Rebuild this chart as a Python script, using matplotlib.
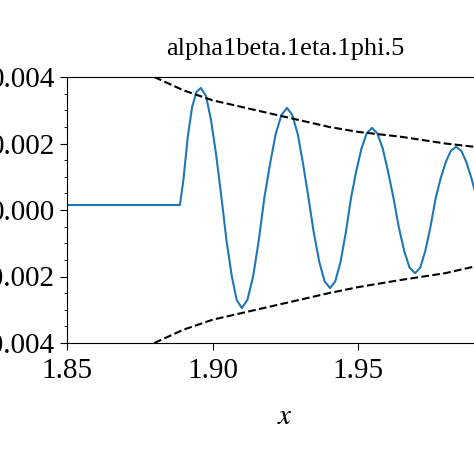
import matplotlib
matplotlib.use("Agg")
import matplotlib.pyplot as plt
from matplotlib.ticker import AutoMinorLocator

plt.rcParams['font.family'] = ['Liberation Serif', 'DejaVu Serif']
plt.rcParams['mathtext.fontset'] = 'stix'

x_sig = [1.850, 1.8888, 1.8900, 1.8915, 1.8930, 1.8945,
         1.8960, 1.8978, 1.8995, 1.9013, 1.9031, 1.9048, 1.9066, 1.9083, 1.9101,
         1.9120, 1.9140, 1.9159, 1.9178, 1.9198, 1.9217, 1.9237, 1.9256,
         1.9274, 1.9293, 1.9311, 1.9330, 1.9348, 1.9367, 1.9385, 1.9404,
         1.9422, 1.9440, 1.9458, 1.9476, 1.9494, 1.9512, 1.9530, 1.9548,
         1.9566, 1.9585, 1.9603, 1.9622, 1.9640, 1.9659, 1.9677, 1.9696,
         1.9714, 1.9731, 1.9749, 1.9767, 1.9784, 1.9802, 1.9819, 1.9837,
         1.9855, 1.9872, 1.9890, 1.9908, 1.9925]
y_sig = [0.00015, 0.00015, 0.0009, 0.0022, 0.0031, 0.00355,
         0.00367, 0.00342, 0.00270, 0.00163, 0.00036, -0.00091, -0.00198, -0.00270, -0.00295,
         -0.00270, -0.00198, -0.00091, 0.00036, 0.00140, 0.00228, 0.00286, 0.00307,
         0.00286, 0.00228, 0.00140, 0.00036, -0.00068, -0.00156, -0.00214, -0.00235,
         -0.00214, -0.00156, -0.00068, 0.00036, 0.00117, 0.00185, 0.00231, 0.00247,
         0.00231, 0.00185, 0.00117, 0.00036, -0.00051, -0.00124, -0.00173, -0.0019,
         -0.00173, -0.00124, -0.00051, 0.00036, 0.00095, 0.00145, 0.00178, 0.0019,
         0.00178, 0.00145, 0.00095, 0.00036, -0.0002]
x_env = [1.880, 1.890, 1.900, 1.910, 1.925, 1.940, 1.950, 1.965, 1.980, 1.990]
y_up = [0.0040, 0.0036, 0.0033, 0.0031, 0.0028, 0.0025, 0.00235, 0.0022, 0.0020, 0.0019]
y_lo = [-0.0040, -0.0036, -0.0033, -0.0031, -0.0028, -0.0025, -0.00232, -0.0021, -0.0019, -0.0017]

fig = plt.figure(figsize=(4.74, 4.74), dpi=100)
ax = fig.add_axes([67/474, 1-343/474, 436.5/474, 266/474])
ax.plot(x_sig, y_sig, color='#1f77b4', lw=1.5)
ax.plot(x_env, y_up, 'k--', lw=1.5)
ax.plot(x_env, y_lo, 'k--', lw=1.5)
ax.set_xlim(1.85, 2.0)
ax.set_ylim(-0.004, 0.004)
ax.set_xticks([1.85, 1.90, 1.95, 2.00])
ax.set_yticks([-0.004, -0.002, 0.0, 0.002, 0.004])
ax.set_yticklabels(['-0.004', '-0.002', '0.000', '0.002', '0.004'])
ax.yaxis.set_minor_locator(AutoMinorLocator(4))
ax.tick_params(labelsize=21, direction='out', length=5)
ax.tick_params(axis='x', pad=6)
ax.set_xlabel('$x$', fontsize=21, labelpad=14)
ax.set_title('alpha1beta.1eta.1phi.5', fontsize=19, pad=16)
fig.savefig('out.png', dpi=100)
